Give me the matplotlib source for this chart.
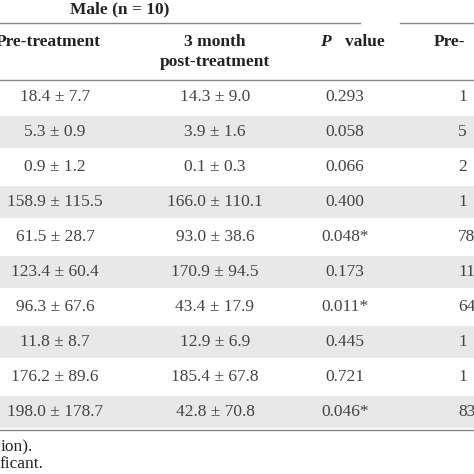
import matplotlib
matplotlib.use("Agg")
import matplotlib.pyplot as plt

pre = ["18.4 ± 7.7","5.3 ± 0.9","0.9 ± 1.2","158.9 ± 115.5","61.5 ± 28.7","123.4 ± 60.4","96.3 ± 67.6","11.8 ± 8.7","176.2 ± 89.6","198.0 ± 178.7"]
post = ["14.3 ± 9.0","3.9 ± 1.6","0.1 ± 0.3","166.0 ± 110.1","93.0 ± 38.6","170.9 ± 94.5","43.4 ± 17.9","12.9 ± 6.9","185.4 ± 67.8","42.8 ± 70.8"]
pval = ["0.293","0.058","0.066","0.400","0.048*","0.173","0.011*","0.445","0.721","0.046*"]
right = ["1","5","2","1","78","11","64","1","1","83"]

plt.rcParams['font.family'] = ['Liberation Serif', 'DejaVu Serif']
fig = plt.figure(figsize=(4.74, 4.74), dpi=100)
ax = fig.add_axes([0, 0, 1, 1])
ax.set_xlim(0, 474); ax.set_ylim(474, 0); ax.axis('off')
fs = 12.5
gray = "#444444"
dark = "#222222"
ax.text(120, 9, "Male (n = 10)", ha='center', va='center', fontsize=fs, weight='bold', color=dark)
ax.plot([0, 360], [23, 23], color='#888', lw=1)
ax.plot([400, 474], [23, 23], color='#888', lw=1)
ax.text(48, 42, "Pre-treatment", ha='center', va='center', fontsize=fs, weight='bold', color=dark)
ax.text(215, 42, "3 month", ha='center', va='center', fontsize=fs, weight='bold', color=dark)
ax.text(215, 62, "post-treatment", ha='center', va='center', fontsize=fs, weight='bold', color=dark)
ax.text(345, 42, "value", ha='left', va='center', fontsize=fs, weight='bold', color=dark)
ax.text(320, 42, "P", ha='left', va='center', fontsize=fs, weight='bold', style='italic', color=dark)
ax.text(434, 42, "Pre-", ha='left', va='center', fontsize=fs, weight='bold', color=dark)
ax.plot([0, 474], [80, 80], color='#888', lw=1)
step = 35
for i in range(len(pre)):
    y = 97 + i * step
    if i % 2 == 1:
        ax.add_patch(plt.Rectangle((0, y - 16), 474, 32, color='#e8e8e8', lw=0))
    ax.text(55, y, pre[i], ha='center', va='center', fontsize=fs, color=gray)
    ax.text(215, y, post[i], ha='center', va='center', fontsize=fs, color=gray)
    ax.text(345, y, pval[i], ha='center', va='center', fontsize=fs, color=gray)
    ax.text(458, y, right[i], ha='left', va='center', fontsize=fs, color=gray)
ax.plot([0, 474], [430, 430], color='#888', lw=1)
ax.text(1, 447, "ion).", ha='left', va='center', fontsize=fs, color=dark)
ax.text(-1, 464, "ficant.", ha='left', va='center', fontsize=fs, color=dark)
fig.savefig("out.png", dpi=100)
